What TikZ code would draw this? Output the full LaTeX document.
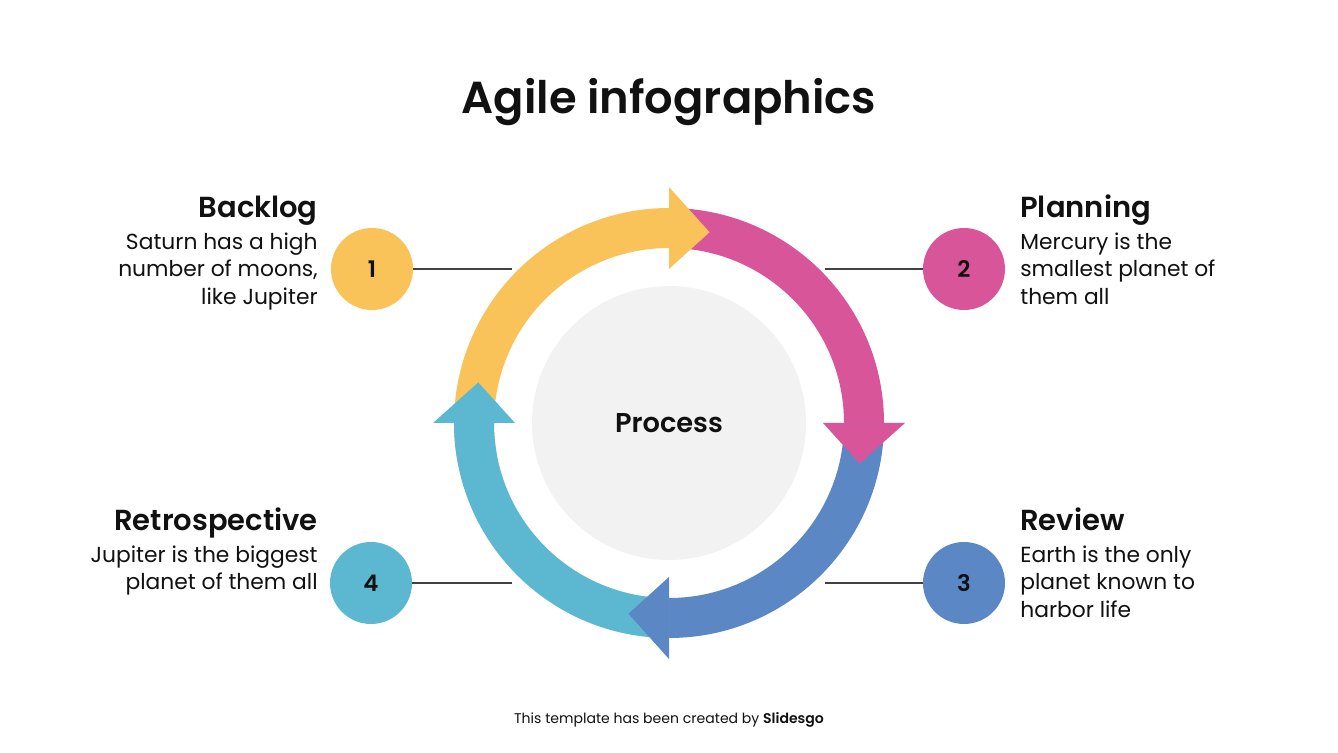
\documentclass[tikz,border=0pt]{standalone}
\usepackage{fontspec}
\setmainfont{Poppins}[BoldFont={Poppins SemiBold}]
\usetikzlibrary{positioning}
\definecolor{cyellow}{HTML}{F9C35A}
\definecolor{cpink}{HTML}{D9559A}
\definecolor{cblue}{HTML}{5B87C5}
\definecolor{ccyan}{HTML}{5BB8D0}
\definecolor{cgray}{HTML}{F2F2F2}
\definecolor{ctext}{HTML}{111111}
\tikzset{
  numdot/.style={circle,fill=#1,minimum size=1.64cm,inner sep=0pt,font=\fontsize{13}{15}\selectfont\bfseries,text=ctext},
  head/.style={font=\fontsize{16.5}{19}\selectfont\bfseries,text=ctext,inner sep=0pt},
  body/.style={font=\fontsize{12.4}{15.4}\selectfont,text=ctext,inner sep=0pt},
  link/.style={draw=ctext!80,line width=0.6pt}
}
% ring arrow: start angle, end angle, colour
\newcommand{\ringbody}[3]{%
  \fill[#3,shift={(669,330)}] (#1:215) arc (#1:#2:215) -- (#2:175) arc (#2:#1:175) -- cycle;}
\newcommand{\ringhead}[2]{%
  \fill[#2,shift={(669,330)}] (#1:236) -- ({#1-12}:195) -- (#1:154) -- cycle;}
\begin{document}
\begin{tikzpicture}[x=0.02cm,y=0.02cm]
  \useasboundingbox[fill=white] (0,0) rectangle (1338,753);
  % title
  \node[font=\fontsize{25.5}{30}\selectfont\bfseries,text=ctext] (title) at (669,651) {Agile infographics};
  % centre
  \node[circle,fill=cgray,minimum size=5.48cm,inner sep=0pt] (core) at (669,330) {};
  \node[font=\fontsize{15.5}{18}\selectfont\bfseries,text=ctext] (proc) at (core) {Process};
  % the ring
  \ringbody{190}{90}{cyellow}
  \ringbody{90}{0}{cpink}
  \ringbody{0}{-90}{cblue}
  \ringbody{270}{180}{ccyan}
  \ringhead{90}{cyellow}
  \ringhead{0}{cpink}
  \ringhead{-90}{cblue}
  \ringhead{180}{ccyan}
  % steps
  \node[numdot=cyellow] (n1) at (372,484) {1};
  \node[numdot=cpink] (n2) at (964,484) {2};
  \node[numdot=cblue] (n3) at (964,170) {3};
  \node[numdot=ccyan] (n4) at (371,170) {4};
  \coordinate (l1) at (512,484);
  \coordinate (l2) at (825,484);
  \coordinate (l3) at (825,170);
  \coordinate (l4) at (512,170);
  \draw[link] (n1) -- (l1);
  \draw[link] (n2) -- (l2);
  \draw[link] (n3) -- (l3);
  \draw[link] (n4) -- (l4);
  % texts
  \node[head,anchor=base east] (t1) at (318,535) {Backlog};
  \node[body,align=right,anchor=north east] (d1) at (318,520) {Saturn has a high\\number of moons,\\like Jupiter};
  \node[head,anchor=base west] (t2) at (1020,535) {Planning};
  \node[body,align=left,anchor=north west] (d2) at (1020,520) {Mercury is the\\smallest planet of\\them all};
  \node[head,anchor=base west] (t3) at (1020,222) {Review};
  \node[body,align=left,anchor=north west] (d3) at (1020,207) {Earth is the only\\planet known to\\harbor life};
  \node[head,anchor=base east] (t4) at (318,222) {Retrospective};
  \node[body,align=right,anchor=north east] (d4) at (318,207) {Jupiter is the biggest\\planet of them all};
  % footer
  \node[font=\fontsize{8}{10}\selectfont,text=ctext] (foot) at (669,33) {This template has been created by \textbf{Slidesgo}};
\end{tikzpicture}
\end{document}
